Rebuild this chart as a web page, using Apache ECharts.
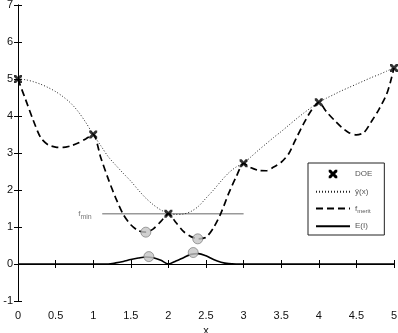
<!DOCTYPE html>
<html>
<head>
<meta charset="utf-8">
<script src="https://cdn.jsdelivr.net/npm/echarts@6/dist/echarts.min.js"></script>
<style>html,body{margin:0;padding:0;background:#fff}#c{width:398px;height:333px}</style>
</head>
<body>
<div id="c"></div>
<script>
// ---- data ----
const doeX = [0, 1, 2, 3, 4, 5];
const doeY = [5.0, 3.5, 1.36, 2.72, 4.37, 5.3];

const yhatX = [0,0.1,0.2,0.3,0.4,0.5,0.6,0.7,0.8,0.9,1.0,1.1,1.2,1.3,1.4,1.5,1.6,1.7,1.8,1.9,2.0,2.1,2.2,2.3,2.4,2.5,2.6,2.7,2.8,2.9,3.0,3.1,3.2,3.3,3.4,3.5,3.6,3.7,3.8,3.9,4.0,4.1,4.2,4.3,4.4,4.5,4.6,4.7,4.8,4.9,5.0];
const yhatY = [5.0,4.98,4.93,4.86,4.77,4.66,4.52,4.35,4.12,3.83,3.5,3.2,2.9,2.67,2.45,2.24,2.0,1.78,1.6,1.46,1.37,1.34,1.35,1.42,1.56,1.78,2.0,2.24,2.46,2.62,2.72,2.9,3.08,3.25,3.42,3.58,3.75,3.92,4.08,4.23,4.37,4.48,4.58,4.68,4.77,4.86,4.95,5.04,5.12,5.21,5.3];

const meritX = [0,0.05,0.1,0.2,0.3,0.4,0.5,0.6,0.7,0.8,0.9,1.0,1.1,1.2,1.3,1.4,1.5,1.6,1.7,1.8,1.9,2.0,2.1,2.2,2.3,2.4,2.5,2.6,2.7,2.8,2.9,3.0,3.1,3.2,3.3,3.4,3.5,3.6,3.7,3.8,3.9,4.0,4.1,4.2,4.3,4.4,4.5,4.6,4.7,4.8,4.9,4.95,5.0];
const meritY = [5.0,4.72,4.45,3.9,3.42,3.22,3.16,3.15,3.19,3.27,3.38,3.5,2.88,2.3,1.78,1.34,1.06,0.9,0.86,0.95,1.15,1.36,1.12,0.88,0.74,0.68,0.72,0.98,1.38,1.9,2.35,2.72,2.6,2.53,2.52,2.62,2.75,2.98,3.4,3.8,4.15,4.37,4.12,3.9,3.7,3.55,3.49,3.55,3.85,4.18,4.58,4.9,5.3];

const eiX = [0,0.5,1.0,1.2,1.3,1.4,1.5,1.6,1.7,1.8,1.9,2.0,2.1,2.2,2.3,2.4,2.5,2.6,2.7,2.8,2.9,3.5,4.0,4.5,5.0];
const eiY = [0,0,0,0,0.03,0.07,0.12,0.16,0.19,0.17,0.1,0,0.08,0.17,0.26,0.28,0.22,0.12,0.05,0.01,0,0,0,0,0];

const circleX = [1.7, 2.39, 1.74, 2.33];
const circleY = [0.86, 0.68, 0.2, 0.31];

const fminX = [1.12, 3.0];
const fminValue = 1.36;

const xTicks = [0, 0.5, 1, 1.5, 2, 2.5, 3, 3.5, 4, 4.5, 5];
const yTicks = [-1, 0, 1, 2, 3, 4, 5, 6, 7];

const names = { doe: 'DOE', yhat: 'ŷ(x)', merit: 'fmerit', ei: 'E(I)' };

const zip = (a, b) => a.map((v, i) => [v, b[i]]);
const FONT = 'Liberation Sans, Arial, Helvetica, sans-serif';
const crossPath = 'path://M0,0 L2.6,0 L5,2.6 L7.4,0 L10,0 L10,2.6 L7.4,5 L10,7.4 L10,10 L7.4,10 L5,7.4 L2.6,10 L0,10 L0,7.4 L2.6,5 L0,2.6 Z';
// same cross with transparent margin so the legend icon stays small
const crossLegend = 'path://M-2,-2 L-1.9,-2 Z M12,12 L11.9,12 Z M0,0 L2.6,0 L5,2.6 L7.4,0 L10,0 L10,2.6 L7.4,5 L10,7.4 L10,10 L7.4,10 L5,7.4 L2.6,10 L0,10 L0,7.4 L2.6,5 L0,2.6 Z';

const chart = echarts.init(document.getElementById('c'), null, { renderer: 'canvas' });
const axisCommon = {
  axisLine: { show: true, lineStyle: { color: '#000', width: 1 } },
  axisTick: { show: true, inside: true, length: 4, lineStyle: { color: '#000' } },
  splitLine: { show: false }
};
chart.setOption({
  animation: false,
  backgroundColor: '#fff',
  grid: { left: 18, right: 4, top: 5, bottom: 32, outerBoundsMode: 'none', containLabel: false },
  xAxis: [
    Object.assign({
      type: 'value', min: 0, max: 5, interval: 0.5, position: 'bottom',
      name: 'x', nameLocation: 'middle', nameGap: 20,
      nameTextStyle: { fontFamily: FONT, fontSize: 11, color: '#111' },
      axisLabel: { fontFamily: FONT, fontSize: 11, color: '#111', margin: 9,
        formatter: v => xTicks.includes(v) ? String(v) : '' }
    }, axisCommon),
    Object.assign({
      type: 'value', min: 0, max: 5, interval: 0.5, position: 'top',
      axisLabel: { show: false }
    }, axisCommon)
  ],
  yAxis: [
    Object.assign({
      type: 'value', min: -1, max: 7, interval: 1, position: 'left',
      axisLabel: { fontFamily: FONT, fontSize: 11, color: '#111', margin: 5,
        formatter: v => yTicks.includes(v) ? String(v) : '' }
    }, axisCommon),
    Object.assign({
      type: 'value', min: -1, max: 7, interval: 1, position: 'right',
      axisLabel: { show: false }
    }, axisCommon)
  ],
  legend: {
    orient: 'vertical', left: 308, top: 163,
    padding: [5, 12, 4, 7], itemGap: 7, itemWidth: 34, itemHeight: 12,
    borderColor: '#222', borderWidth: 1, backgroundColor: '#fff',
    itemStyle: { opacity: 0 },
    data: [
      { name: names.doe, icon: crossLegend, itemStyle: { opacity: 1, color: '#000' } },
      { name: names.yhat },
      { name: names.merit },
      { name: names.ei }
    ],
    formatter: n => n === names.merit ? '{b|f}{s|merit}' : '{b|' + n + '}',
    textStyle: {
      fontFamily: FONT, fontSize: 8, color: '#555',
      rich: {
        b: { fontFamily: FONT, fontSize: 8, color: '#555' },
        s: { fontFamily: FONT, fontSize: 6, color: '#555', padding: [6, 0, 0, 0] }
      }
    }
  },
  series: [
    {
      name: names.ei, type: 'line', data: zip(eiX, eiY), showSymbol: false, symbol: 'none',
      smooth: 0.3, itemStyle: { color: '#000' },
      lineStyle: { color: '#000', width: 1.6, type: 'solid' }, z: 3
    },
    {
      name: names.yhat, type: 'line', data: zip(yhatX, yhatY), symbol: 'none',
      smooth: 0.3, itemStyle: { color: '#000' },
      lineStyle: { color: '#222', width: 1, type: [1, 2] }, z: 2
    },
    {
      name: names.merit, type: 'line', data: zip(meritX, meritY), symbol: 'none',
      smooth: 0.25, itemStyle: { color: '#000' },
      lineStyle: { color: '#000', width: 1.7, type: [7, 4] }, z: 3
    },
    {
      name: 'fmin', type: 'line', symbol: 'none',
      data: zip(fminX, fminX.map(() => fminValue)),
      lineStyle: { color: '#999', width: 1.4 }, z: 1, silent: true
    },
    {
      name: 'fminLabel', type: 'scatter', symbolSize: 1, silent: true,
      data: [[fminX[0], fminValue]],
      itemStyle: { color: 'rgba(0,0,0,0)' },
      label: {
        show: true, position: 'left', distance: 10,
        formatter: '{b|f}{s|min}',
        rich: {
          b: { fontFamily: FONT, fontSize: 8, color: '#555' },
          s: { fontFamily: FONT, fontSize: 7, color: '#555', padding: [6, 0, 0, 0] }
        }
      }
    },
    {
      name: 'opt', type: 'scatter', data: zip(circleX, circleY), symbol: 'circle', symbolSize: 10,
      itemStyle: { color: '#c4c4c4', borderColor: '#707070', borderWidth: 0.8 }, z: 6
    },
    {
      name: names.doe, type: 'scatter', data: zip(doeX, doeY), symbol: crossPath, symbolSize: 8,
      itemStyle: { color: '#000' }, z: 7
    }
  ]
});
</script>
</body>
</html>
